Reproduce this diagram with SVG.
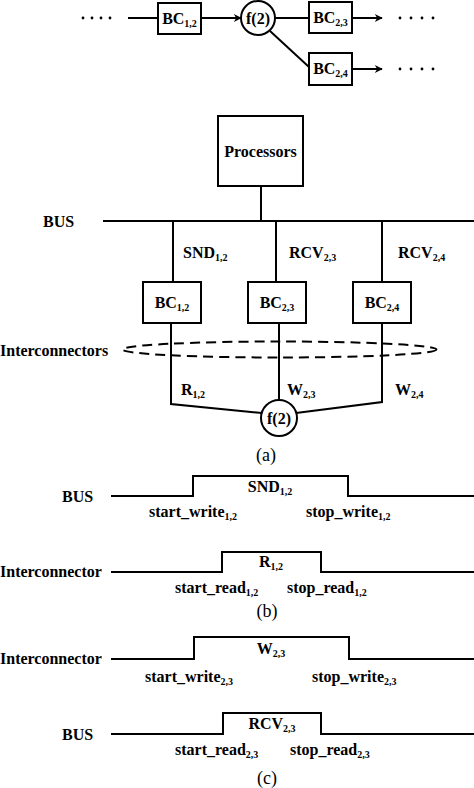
<svg xmlns="http://www.w3.org/2000/svg" width="474" height="788" viewBox="0 0 474 788">
<style>
text{font-family:"Liberation Serif","Times New Roman",serif;font-weight:bold;font-size:16px;fill:#000}
.cap{font-weight:normal;font-size:18px}
.sub{font-size:10px}
.ln{stroke:#000;stroke-width:2;fill:none}
.box{stroke:#000;stroke-width:2;fill:#fff}
.mid{text-anchor:middle}
</style>
<defs>
<marker id="arr" viewBox="0 0 10 10" refX="9" refY="5" markerWidth="9" markerHeight="8" orient="auto" markerUnits="userSpaceOnUse">
<path d="M0,0 L10,5 L0,10 L3,5 Z" fill="#000"/>
</marker>
</defs>
<rect width="474" height="788" fill="#fff"/>

<g id="connectors">
<line class="ln" x1="128" y1="18" x2="158" y2="18"/>
<line class="ln" x1="201" y1="18" x2="241" y2="18" marker-end="url(#arr)"/>
<line class="ln" x1="275" y1="18" x2="309" y2="18"/>
<line class="ln" x1="270" y1="31" x2="309" y2="67"/>
<line class="ln" x1="352" y1="18" x2="382" y2="18" marker-end="url(#arr)"/>
<line class="ln" x1="352" y1="69" x2="382" y2="69" marker-end="url(#arr)"/>
<line class="ln" x1="261" y1="186" x2="261" y2="221"/>
<line class="ln" x1="103" y1="221" x2="474" y2="221"/>
<line class="ln" x1="173" y1="221" x2="173" y2="282"/>
<line class="ln" x1="276" y1="221" x2="276" y2="282"/>
<line class="ln" x1="382" y1="221" x2="382" y2="282"/>
<polyline class="ln" points="171,323 171,404 262,413"/>
<line class="ln" x1="279" y1="323" x2="279" y2="400"/>
<polyline class="ln" points="382,323 382,402 296,413"/>
<ellipse cx="279.5" cy="349.5" rx="157" ry="8" fill="none" stroke="#000" stroke-width="2" stroke-dasharray="10,6"/>
</g>

<g id="dots-left" fill="#000">
<circle cx="83" cy="18" r="1.4"/><circle cx="92" cy="18" r="1.4"/><circle cx="101" cy="18" r="1.4"/><circle cx="110" cy="18" r="1.4"/>
</g>
<g id="dots-right" fill="#000">
<circle cx="400" cy="18" r="1.4"/><circle cx="411" cy="18" r="1.4"/><circle cx="422" cy="18" r="1.4"/><circle cx="433" cy="18" r="1.4"/>
<circle cx="400" cy="69" r="1.4"/><circle cx="411" cy="69" r="1.4"/><circle cx="422" cy="69" r="1.4"/><circle cx="433" cy="69" r="1.4"/>
</g>

<g id="top-bc12"><rect class="box" x="158" y="3" width="43" height="31"/><text class="mid" x="179.5" y="24">BC<tspan class="sub" dy="3">1,2</tspan></text></g>
<g id="top-f2"><circle class="box" cx="258" cy="18" r="17"/><text class="mid" x="258" y="24">f(2)</text></g>
<g id="top-bc23"><rect class="box" x="309" y="2" width="43" height="31"/><text class="mid" x="330.5" y="23">BC<tspan class="sub" dy="3">2,3</tspan></text></g>
<g id="top-bc24"><rect class="box" x="309" y="53" width="43" height="32"/><text class="mid" x="330.5" y="74">BC<tspan class="sub" dy="3">2,4</tspan></text></g>

<g id="processors"><rect class="box" x="218" y="116" width="85" height="70"/><text class="mid" x="260.5" y="157">Processors</text></g>
<g id="bus-label"><text x="43" y="227">BUS</text></g>
<g id="labels-a">
<text x="183" y="258">SND<tspan class="sub" dy="3">1,2</tspan></text>
<text x="289" y="258">RCV<tspan class="sub" dy="3">2,3</tspan></text>
<text x="398" y="258">RCV<tspan class="sub" dy="3">2,4</tspan></text>
<text x="181" y="395">R<tspan class="sub" dy="3">1,2</tspan></text>
<text x="287" y="395">W<tspan class="sub" dy="3">2,3</tspan></text>
<text x="395" y="395">W<tspan class="sub" dy="3">2,4</tspan></text>
</g>
<g id="bc12"><rect class="box" x="143" y="282" width="58" height="41"/><text class="mid" x="172" y="308">BC<tspan class="sub" dy="3">1,2</tspan></text></g>
<g id="bc23"><rect class="box" x="248" y="282" width="58" height="41"/><text class="mid" x="277" y="308">BC<tspan class="sub" dy="3">2,3</tspan></text></g>
<g id="bc24"><rect class="box" x="353" y="282" width="58" height="41"/><text class="mid" x="382" y="308">BC<tspan class="sub" dy="3">2,4</tspan></text></g>
<g id="interconnectors-label"><text x="0" y="356">Interconnectors</text></g>
<g id="f2"><circle class="box" cx="279" cy="418" r="18"/><text class="mid" x="279" y="424">f(2)</text></g>
<text class="cap mid" x="266" y="461">(a)</text>

<g id="timing-b1">
<text x="62" y="502">BUS</text>
<polyline class="ln" points="111,496 193,496 193,476 348,476 348,496 474,496"/>
<text class="mid" x="270" y="492">SND<tspan class="sub" dy="3">1,2</tspan></text>
<text x="149" y="517">start_write<tspan class="sub" dy="3">1,2</tspan></text>
<text x="306" y="517">stop_write<tspan class="sub" dy="3">1,2</tspan></text>
</g>
<g id="timing-b2">
<text x="0" y="577">Interconnector</text>
<polyline class="ln" points="111,572 222,572 222,552 321,552 321,572 474,572"/>
<text class="mid" x="271" y="567">R<tspan class="sub" dy="3">1,2</tspan></text>
<text x="175" y="593">start_read<tspan class="sub" dy="3">1,2</tspan></text>
<text x="287" y="593">stop_read<tspan class="sub" dy="3">1,2</tspan></text>
</g>
<text class="cap mid" x="267" y="617">(b)</text>

<g id="timing-c1">
<text x="0" y="664">Interconnector</text>
<polyline class="ln" points="111,659 194,659 194,637 349,637 349,659 474,659"/>
<text class="mid" x="271" y="654">W<tspan class="sub" dy="3">2,3</tspan></text>
<text x="145" y="682">start_write<tspan class="sub" dy="3">2,3</tspan></text>
<text x="312" y="682">stop_write<tspan class="sub" dy="3">2,3</tspan></text>
</g>
<g id="timing-c2">
<text x="62" y="740">BUS</text>
<polyline class="ln" points="111,734 223,734 223,713 321,713 321,734 474,734"/>
<text class="mid" x="272" y="729">RCV<tspan class="sub" dy="3">2,3</tspan></text>
<text x="175" y="755">start_read<tspan class="sub" dy="3">2,3</tspan></text>
<text x="290" y="755">stop_read<tspan class="sub" dy="3">2,3</tspan></text>
</g>
<text class="cap mid" x="267" y="784">(c)</text>
</svg>
